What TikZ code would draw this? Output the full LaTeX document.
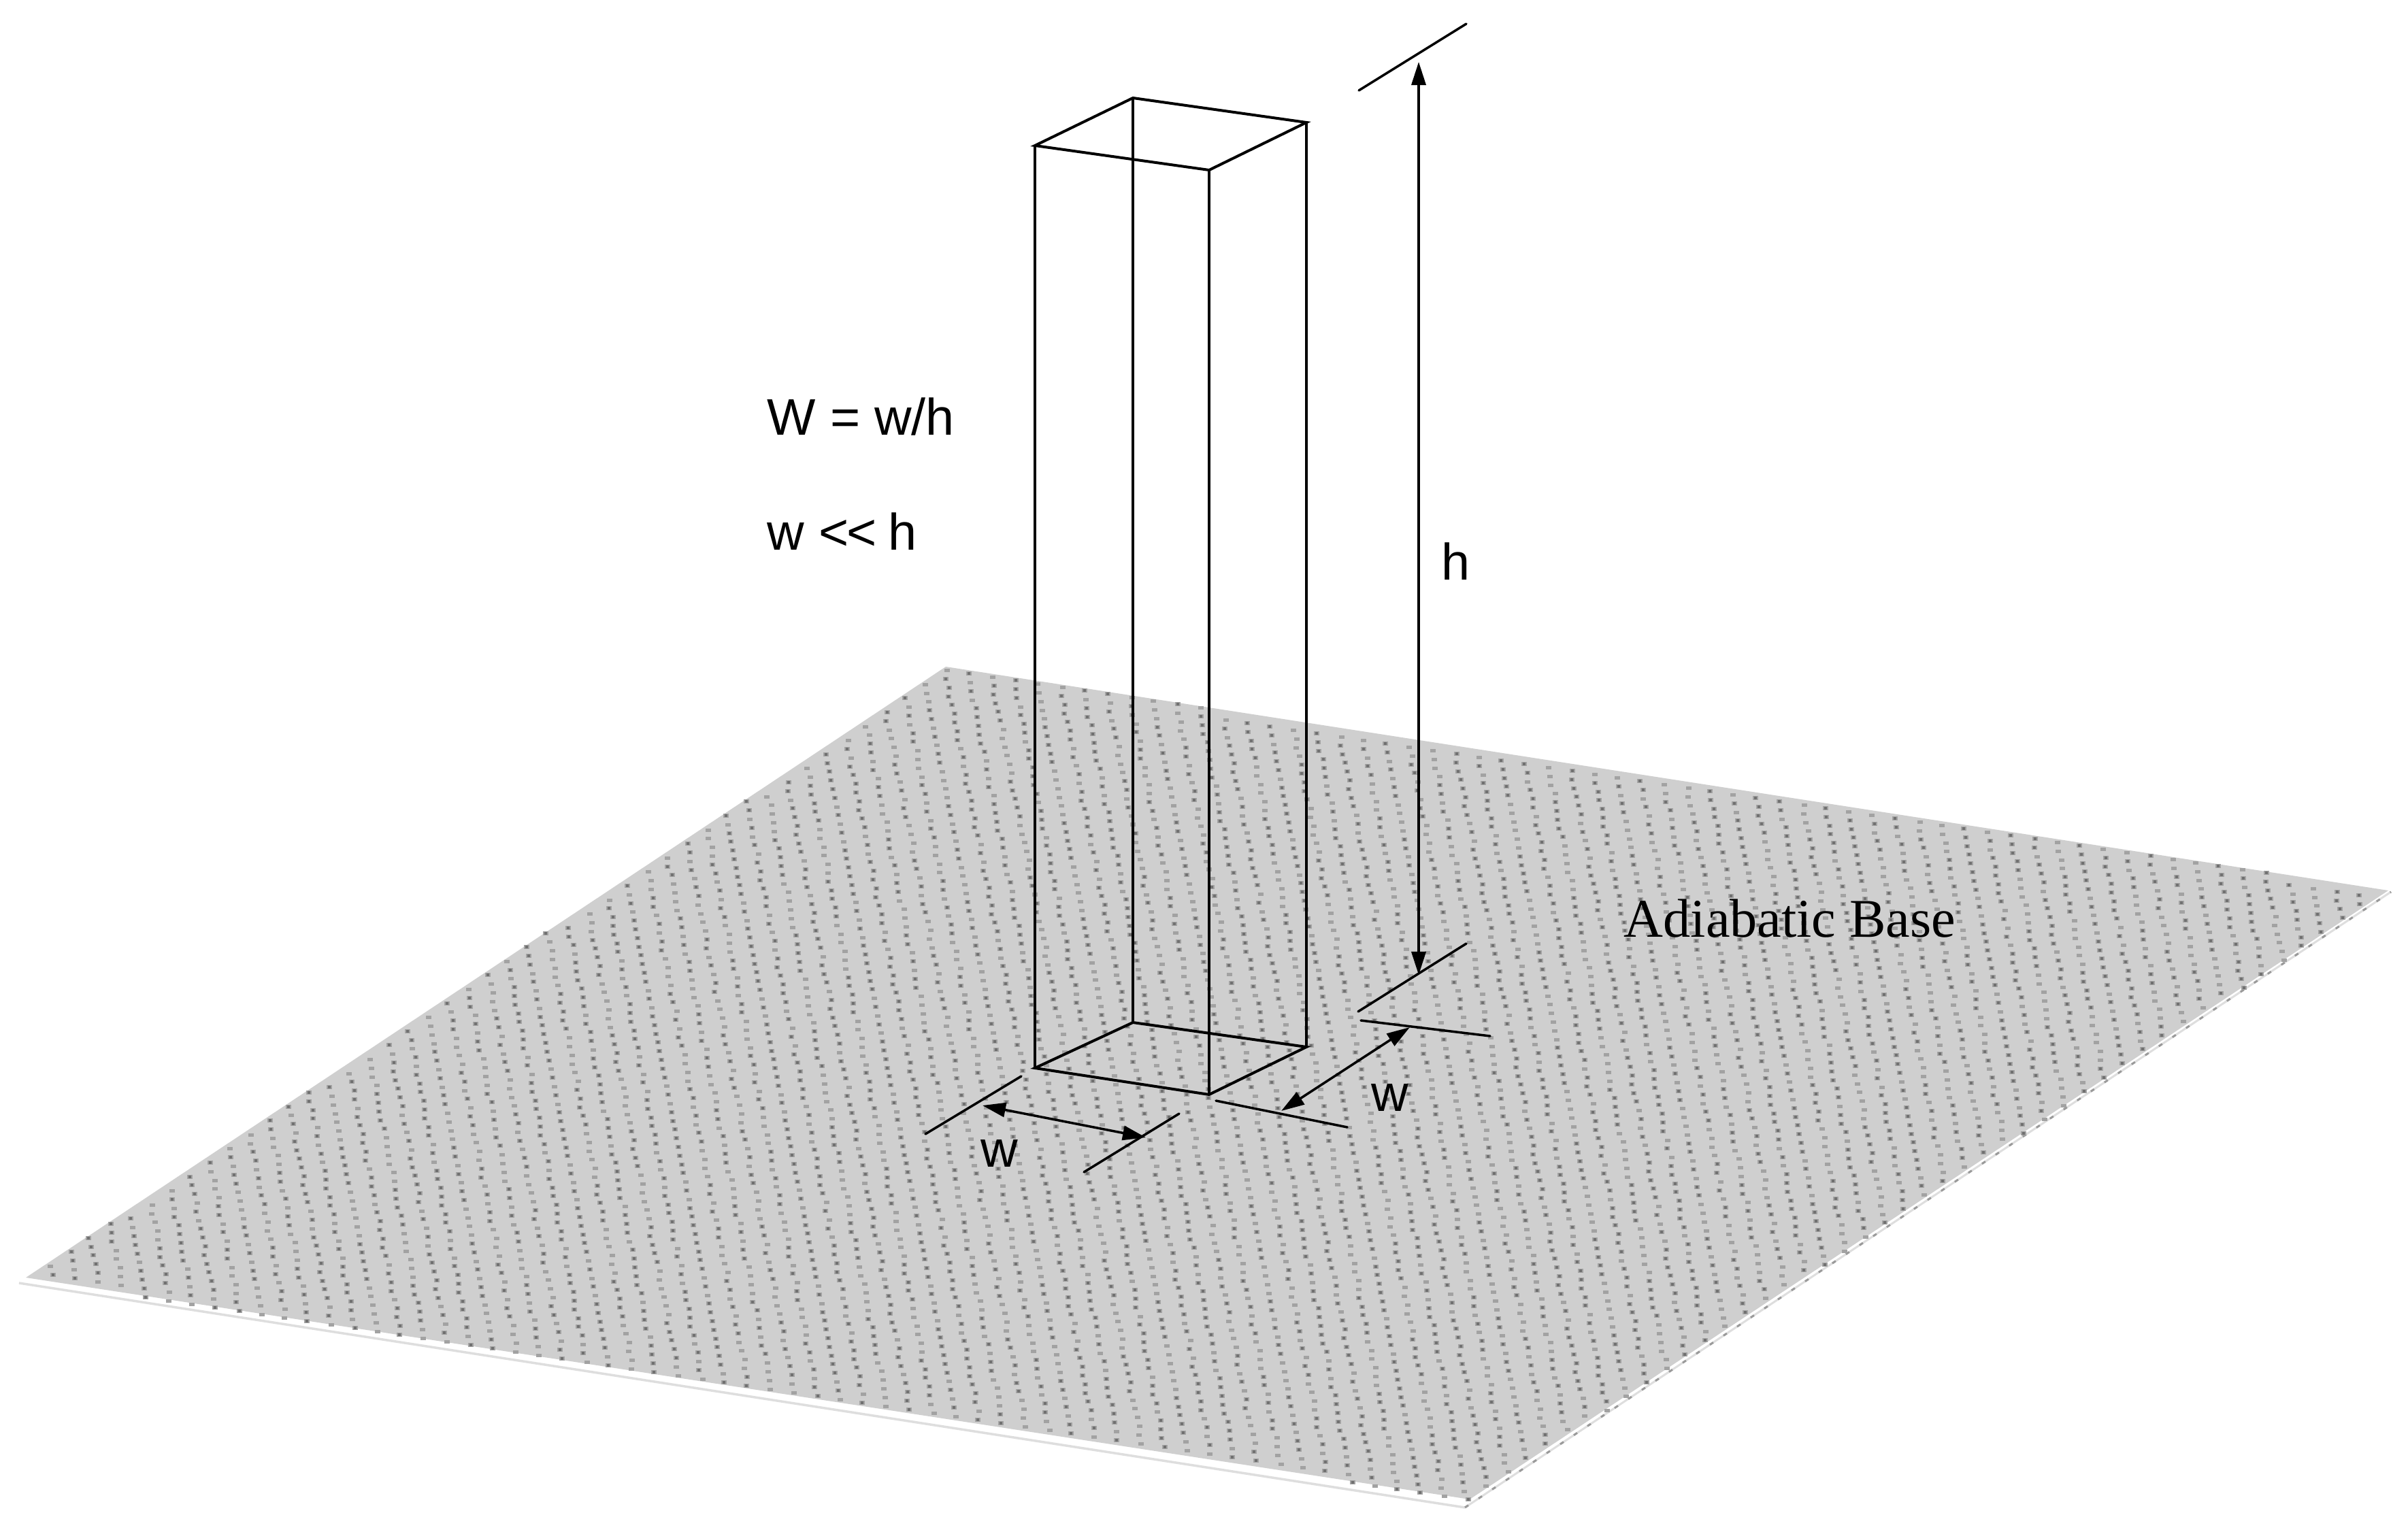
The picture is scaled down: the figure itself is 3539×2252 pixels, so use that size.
\documentclass[tikz,border=0pt]{standalone}
\usepackage{fontspec}
\setmainfont{Liberation Sans}
\newfontfamily\serifbase{Liberation Serif}
\usetikzlibrary{arrows.meta}
\definecolor{basegray}{HTML}{CFCFCF}
\definecolor{dotdark}{HTML}{707070}
\definecolor{dotmid}{HTML}{A2A2A2}
\definecolor{dotlight}{HTML}{BBBBBB}
\definecolor{edgefaint}{HTML}{DEDEDE}
\definecolor{edgespeck}{HTML}{9A9A9A}
\tikzset{
  wire/.style={line width=0.04cm,black},
  tickline/.style={line width=0.035cm,black,line cap=round},
  dim/.style={line width=0.035cm,black,
    {Triangle[length=0.34cm,width=0.21cm]}-{Triangle[length=0.34cm,width=0.21cm]}},
  lab/.style={anchor=base,inner sep=0pt,font=\fontsize{21.5pt}{24pt}\selectfont,text=black},
  labw/.style={lab,anchor=base west},
}
\begin{document}
\begin{tikzpicture}[x=0.01cm,y=-0.01cm]
\useasboundingbox (0,0) rectangle (3539,2252);
% plate
\coordinate (pA) at (1390,980);
\coordinate (pB) at (3510,1309);
\coordinate (pC) at (2160,2204);
\coordinate (pD) at (38,1878);
\coordinate (oL) at (28,1886);
\coordinate (oB) at (2153,2216);
\coordinate (oR) at (3514,1311);
\fill[basegray] (pA) -- (pB) -- (pC) -- (pD) -- cycle;
\draw[edgefaint,line width=0.035cm] (oL) -- (oB);
\draw[edgefaint,line width=0.03cm] (oB) -- (oR);
\draw[edgespeck,line width=0.03cm,dash pattern=on 0.06cm off 0.18cm] (oB) -- (oR);
% dot texture
\foreach \i in {-7,...,106}{
  \foreach \j in {-42,...,100}{
    \edef\px{\the\numexpr 34*\i+(5*\j)/2\relax}
    \edef\py{\the\numexpr 978+5*\i+(64*\j)/5\relax}
    \ifnum\numexpr 2120*(\py-980)-329*(\px-1390)\relax<0 \else
    \ifnum\numexpr -1350*(\py-1309)-895*(\px-3510)\relax<0 \else
    \ifnum\numexpr -2122*(\py-2204)+326*(\px-2160)\relax<0 \else
    \ifnum\numexpr 1352*(\py-1878)+898*(\px-38)\relax<0 \else
      \edef\ha{\the\numexpr (\i+50)*(\i+50)*3+(\j+50)*(\j+50)*5+(\i+50)*(\j+50)*2+\i+\j*3+200\relax}
      \edef\hb{\the\numexpr \ha-(\ha/11)*11\relax}
      \edef\hc{\the\numexpr \ha-(\ha/5)*5\relax}
      \edef\qx{\the\numexpr \px+\hc-2\relax}
      \ifnum\hb<2
        \fill[dotmid] (\qx-1,\py-1) rectangle ++(8,6);
        \fill[dotdark] (\qx+1,\py) rectangle ++(4,4);
      \else\ifnum\hb<7
        \fill[dotmid] (\qx,\py) rectangle ++(8,5);
      \else
        \fill[dotlight] (\qx-1,\py-2) rectangle ++(9,9);
      \fi\fi
    \fi\fi\fi\fi
  }
}
% column
\coordinate (tFL) at (1521,214);
\coordinate (tB) at (1665,144);
\coordinate (tR) at (1920,180);
\coordinate (tF) at (1777,250);
\coordinate (bFL) at (1521,1570);
\coordinate (bB) at (1665,1503);
\coordinate (bR) at (1920,1539);
\coordinate (bF) at (1777,1609);
\draw[wire,line join=miter] (tFL) -- (tB) -- (tR) -- (tF) -- cycle;
\draw[wire,line join=miter] (bFL) -- (bB) -- (bR) -- (bF) -- cycle;
\draw[wire] (tFL) -- (bFL);
\draw[wire] (tB) -- (bB);
\draw[wire] (tR) -- (bR);
\draw[wire] (tF) -- (bF);
% dimension ticks
\coordinate (t1a) at (1360,1667); \coordinate (t1b) at (1501,1582);
\coordinate (t2a) at (1593,1723); \coordinate (t2b) at (1733,1637);
\coordinate (t3a) at (1787,1618); \coordinate (t3b) at (1980,1657);
\coordinate (t4a) at (2000,1500); \coordinate (t4b) at (2190,1523);
\coordinate (t5a) at (1996,1487); \coordinate (t5b) at (2155,1387);
\coordinate (t6a) at (1997,133);  \coordinate (t6b) at (2155,35);
\draw[tickline] (t1a) -- (t1b);
\draw[tickline] (t2a) -- (t2b);
\draw[tickline] (t3a) -- (t3b);
\draw[tickline] (t4a) -- (t4b);
\draw[tickline] (t5a) -- (t5b);
\draw[tickline] (t6a) -- (t6b);
% dimension arrows
\coordinate (w1a) at (1444,1625); \coordinate (w1b) at (1684,1672);
\coordinate (w2a) at (1883,1633); \coordinate (w2b) at (2072,1510);
\coordinate (hA) at (2085,91);    \coordinate (hB) at (2085,1433);
\draw[dim] (w1a) -- (w1b);
\draw[dim] (w2a) -- (w2b);
\draw[dim] (hA) -- (hB);
% labels
\node[lab] (lw1) at (1469,1715) {w};
\node[lab] (lw2) at (2043,1633) {w};
\node[labw] (lh) at (2118,852) {h};
\node[labw] (eq1) at (1127,640) {W = w/h};
\node[labw] (eq2) at (1127,808) {w <\kern-1pt<\kern-1pt\ h};
\node[anchor=base west,inner sep=0pt,font=\serifbase\fontsize{22.8pt}{26pt}\selectfont,text=black] (abase) at (2386,1377) {Adiabatic Base};
\end{tikzpicture}
\end{document}
